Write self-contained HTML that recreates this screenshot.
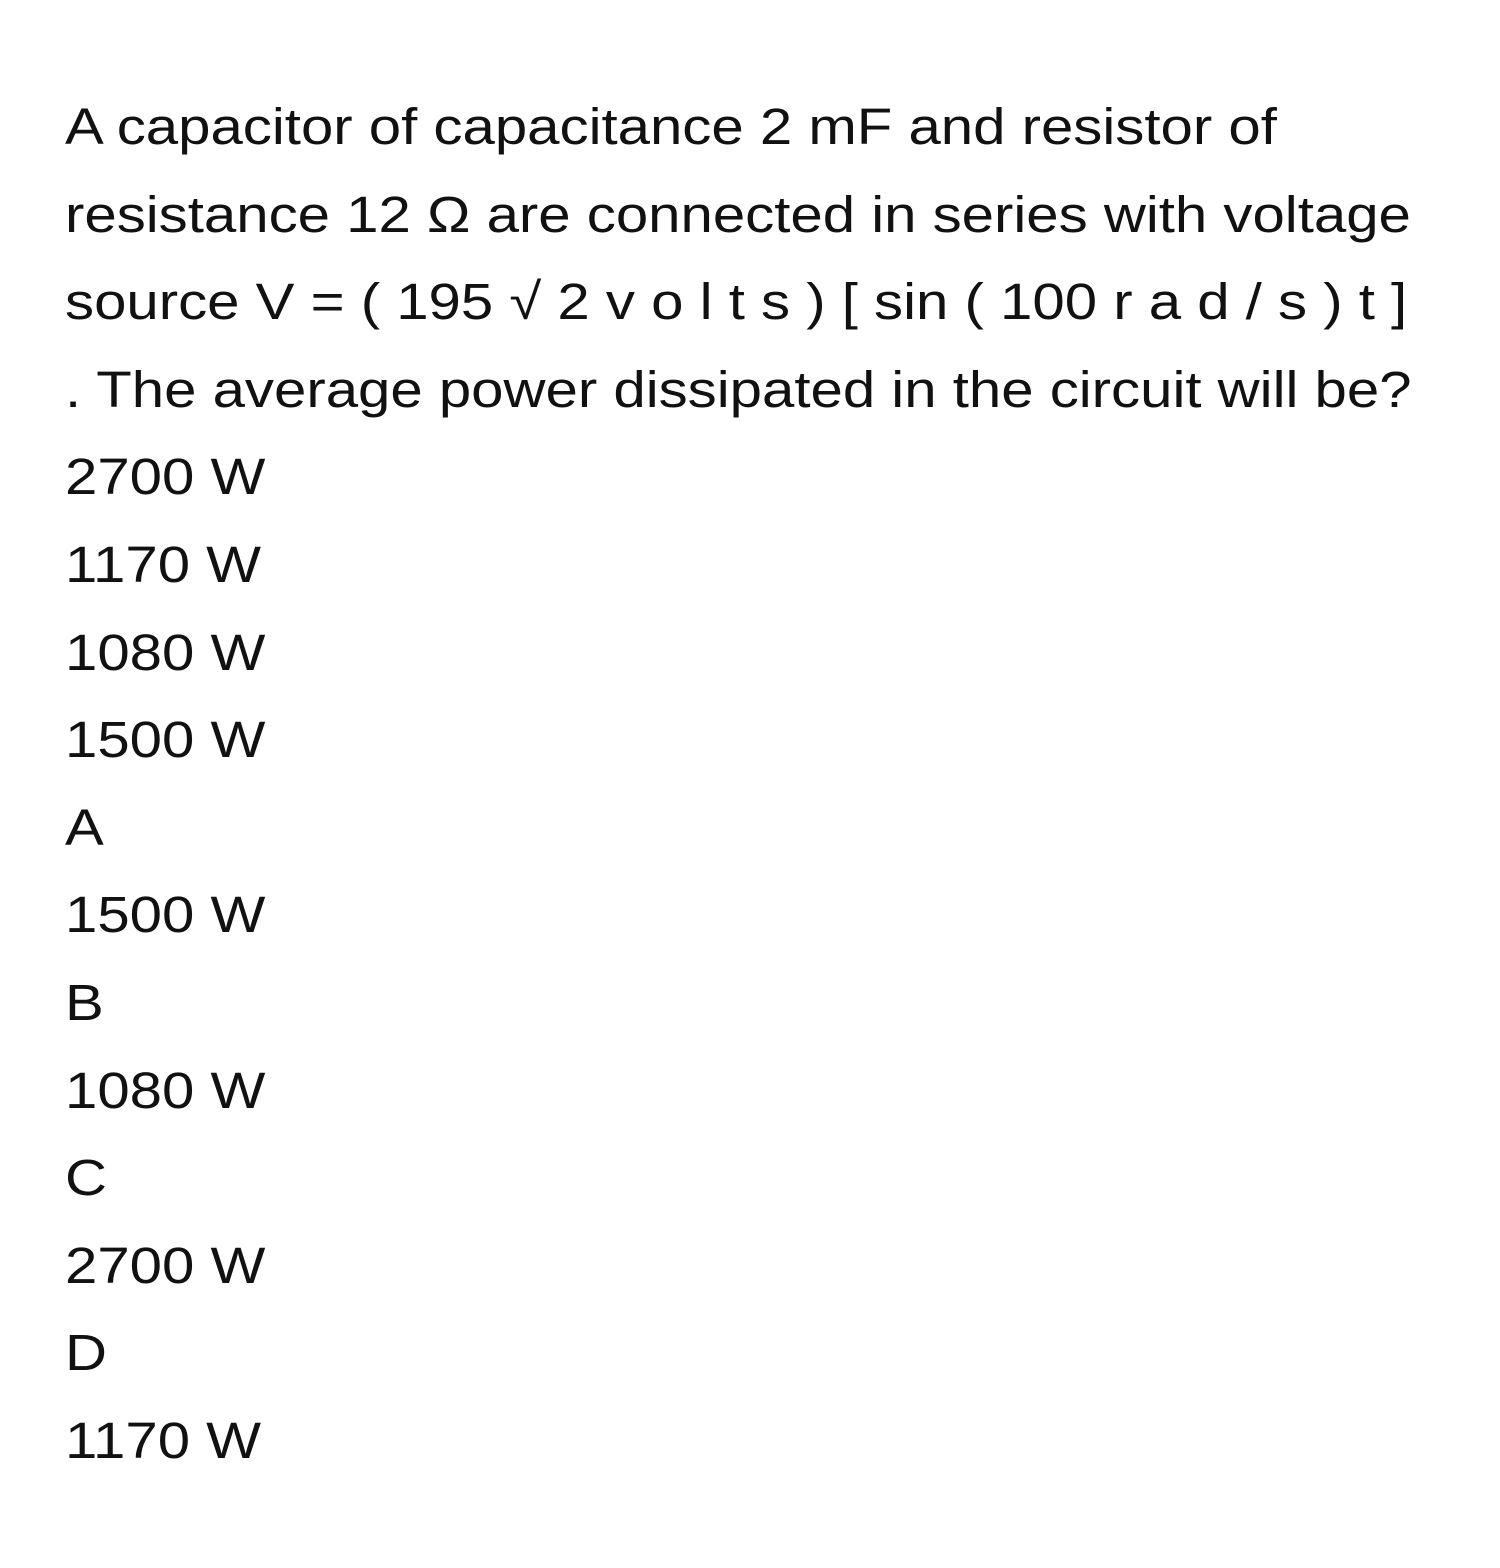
<!DOCTYPE html>
<html><head><meta charset="utf-8"><style>
html,body{margin:0;padding:0;background:#fff;}
body{width:1500px;height:1568px;overflow:hidden;}
.c{position:absolute;left:65px;top:83px;font-family:"Liberation Sans",sans-serif;font-size:51px;line-height:87.6px;color:#111;white-space:nowrap;}
.c div{transform:scaleX(1.14);transform-origin:0 50%;}
</style></head><body><div class="c">
<div>A capacitor of capacitance 2 mF and resistor of</div>
<div>resistance 12 Ω are connected in series with voltage</div>
<div>source V = ( 195 √ 2 v o l t s ) [ sin ( 100 r a d / s ) t ]</div>
<div>. The average power dissipated in the circuit will be?</div>
<div>2700 W</div>
<div>1170 W</div>
<div>1080 W</div>
<div>1500 W</div>
<div>A</div>
<div>1500 W</div>
<div>B</div>
<div>1080 W</div>
<div>C</div>
<div>2700 W</div>
<div>D</div>
<div>1170 W</div>
</div></body></html>
